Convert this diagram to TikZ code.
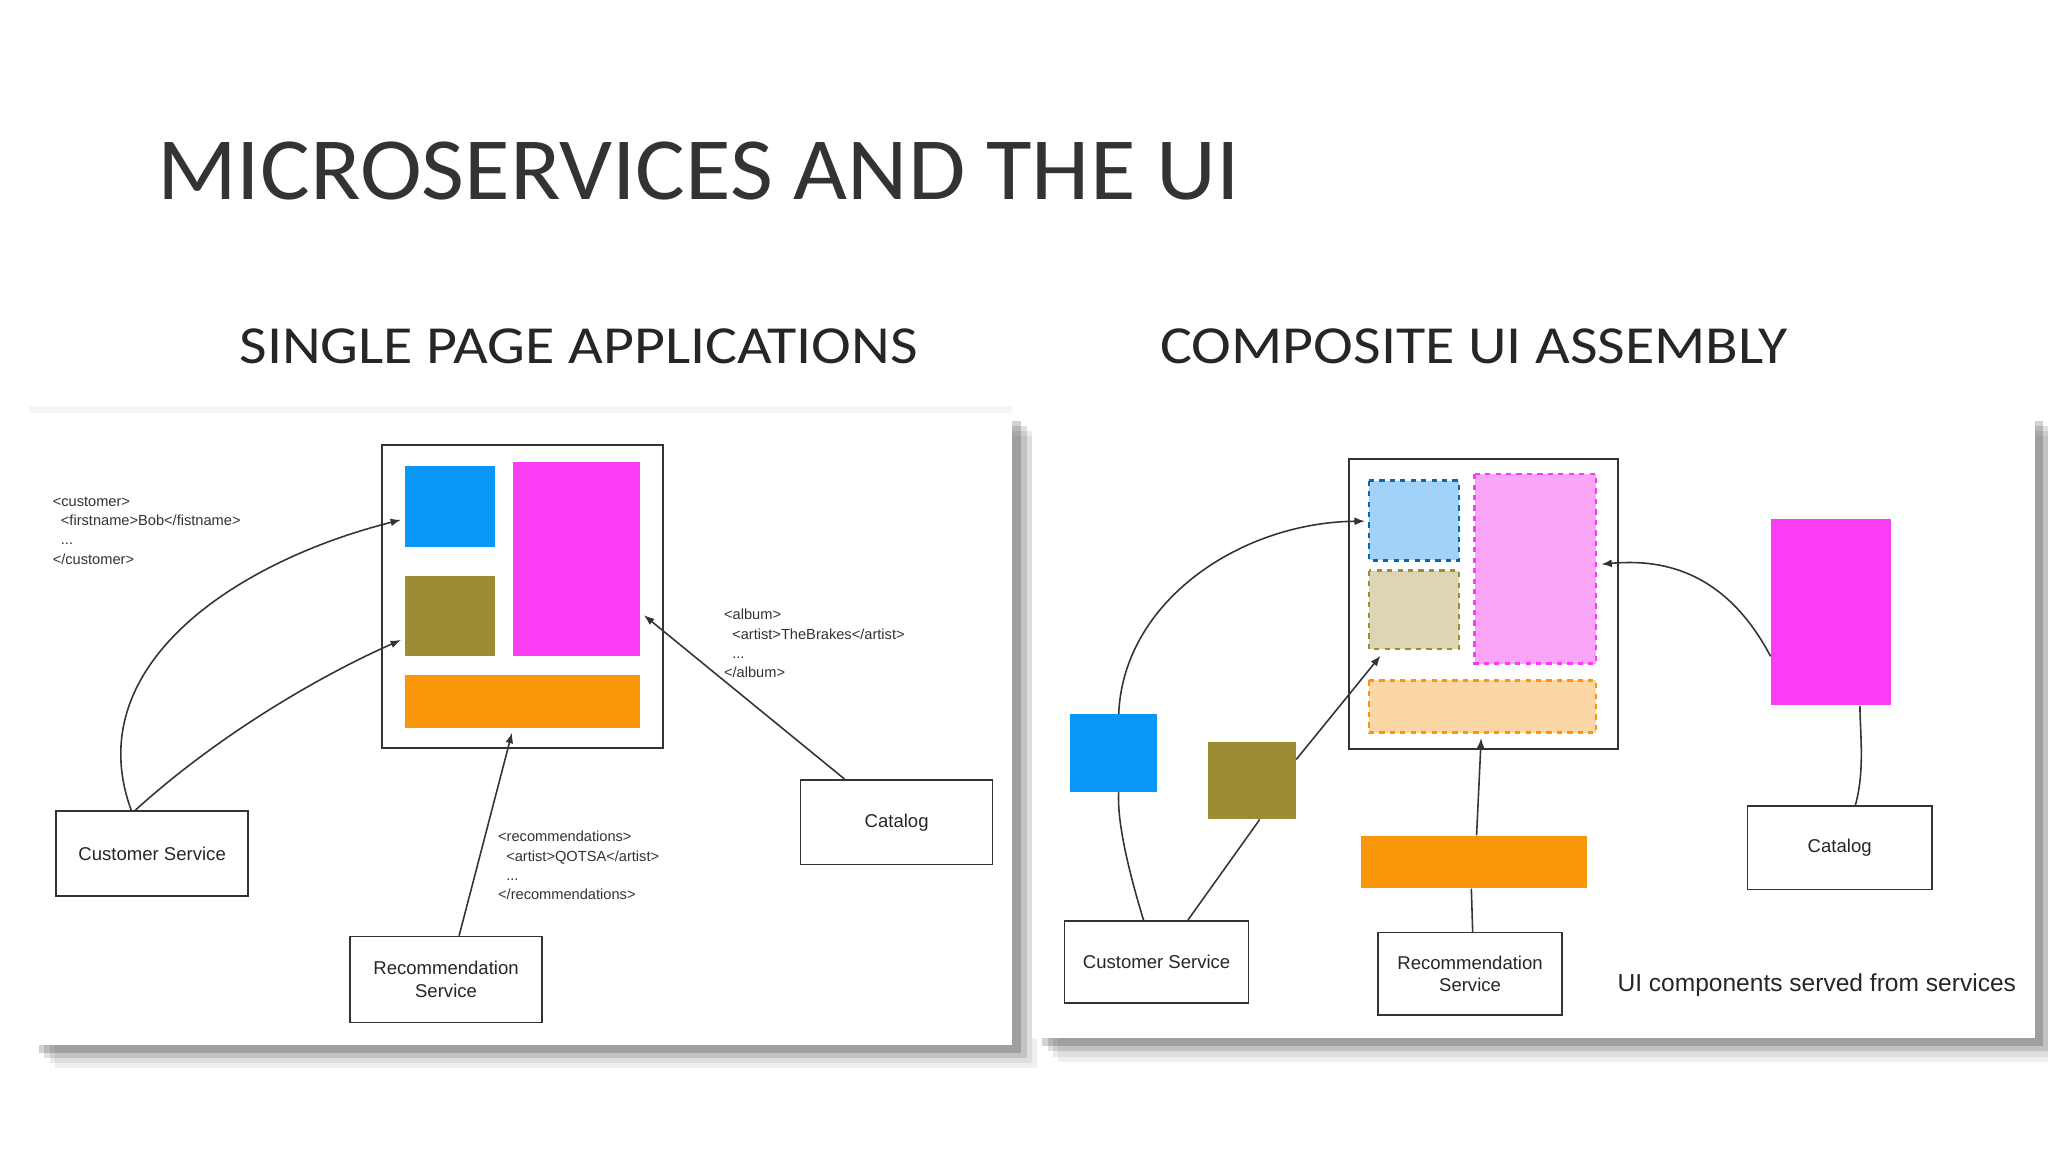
\documentclass[tikz,border=0pt]{standalone}
\usepackage{fontspec}
\setmainfont{Liberation Sans}
\newfontfamily\calfont{Carlito}
\newfontfamily\calwide{Carlito}[FakeStretch=1.05]
\newfontfamily\calwider{Carlito}[FakeStretch=1.12]
\usetikzlibrary{arrows.meta}
\definecolor{mblue}{HTML}{0A96F5}
\definecolor{mmag}{HTML}{FA3CF5}
\definecolor{molive}{HTML}{9C8C32}
\definecolor{morange}{HTML}{FA960A}
\definecolor{lblue}{HTML}{A0D2FA}
\definecolor{lpink}{HTML}{FAA5F8}
\definecolor{ltan}{HTML}{DCD6B4}
\definecolor{lpeach}{HTML}{FAD7A5}
\begin{document}
\begin{tikzpicture}[x=0.5pt,y=-0.5pt,
  box/.style={draw=black!80,line width=0.6pt,fill=white},
  svc/.style={draw=black!80,line width=0.6pt,fill=white,font=\fontsize{7.1}{8.6}\selectfont,align=center,inner sep=0,text=black!85},
  xml/.style={font=\fontsize{5.6}{7.4}\selectfont,align=left,anchor=north west,inner sep=0,text=black!80},
  ar/.style={-{Latex[length=4pt,width=3pt]},line width=0.6pt,black!80},
  ln/.style={line width=0.6pt,black!80},
  dsh/.style={line width=1pt,dash pattern=on 2pt off 2pt}]
\useasboundingbox (0,0) rectangle (1568,882);
\fill[white] (0,0) rectangle (1568,882);
% titles
\node[anchor=base west,inner sep=0,font=\calwide\fontsize{34}{36}\selectfont,text=black!80] (title) at (120,153) {MICROSERVICES AND THE UI};
\node[anchor=base west,inner sep=0,font=\calwider\fontsize{20.5}{22}\selectfont,text=black!85] (st1) at (183,278) {SINGLE PAGE APPLICATIONS};
\node[anchor=base west,inner sep=0,font=\calwider\fontsize{20.5}{22}\selectfont,text=black!85] (st2) at (888,278) {COMPOSITE UI ASSEMBLY};
% panel shadows
\foreach \o/\a in {16/0.06,12/0.08,8/0.12,4/0.18}{
  \fill[black,opacity=\a] (26+\o,318+\o) rectangle (778+\o,802+\o);
  \fill[black,opacity=\a] (794+\o,318+\o) rectangle (1560+\o,797+\o);}
\fill[black!4] (22,311) rectangle (775,316);
\fill[white] (22,316) rectangle (775,800);
\fill[white] (790,316) rectangle (1558,795);
% ===== left =====
\node[box,minimum width=107.5pt,minimum height=116pt,anchor=north west] (ui) at (292,340) {};
\fill[mblue] (310,357) rectangle (379,419);
\coordinate (b1) at (307,398);
\fill[mmag] (393,354) rectangle (490,502);
\fill[molive] (310,441) rectangle (379,502);
\coordinate (b2) at (307,490);
\fill[morange] (310,517) rectangle (490,557);
\node[svc,minimum width=73.5pt,minimum height=32.5pt] (cs) at (116.5,653.5) {Customer Service};
\node[svc,minimum width=73.5pt,minimum height=33pt] (rs) at (341.5,750) {Recommendation\\Service};
\node[svc,minimum width=73.5pt,minimum height=32.5pt] (cat) at (686.5,629.5) {Catalog};
\draw[ar] ([xshift=-8pt]cs.north) .. controls (60,510) and (180,430) .. (b1);
\draw[ar] ([xshift=-6.5pt]cs.north) .. controls (170,560) and (250,515) .. (b2);
\coordinate (u1) at (392,561);
\draw[ar] ([xshift=5pt]rs.north) -- (u1);
\coordinate (u2) at (493,471);
\draw[ar] ([xshift=-20pt]cat.north) -- (u2);
\node[xml] (x1) at (40,380) {<customer>\\\ \ <firstname>Bob</fistname>\\\ \ ...\\</customer>};
\node[xml] (x2) at (381,636) {<recommendations>\\\ \ <artist>QOTSA</artist>\\\ \ ...\\</recommendations>};
\node[xml] (x3) at (554,466) {<album>\\\ \ <artist>TheBrakes</artist>\\\ \ ...\\</album>};
% ===== right =====
\node[box,minimum width=103pt,minimum height=111pt,anchor=north west] (ui2) at (1032,351) {};
\filldraw[fill=lblue,draw=mblue!70!black,dsh] (1048,368) rectangle (1117,429);
\filldraw[fill=lpink,draw=mmag,dsh] (1129,363) rectangle (1222,508);
\filldraw[fill=ltan,draw=molive,dsh] (1048,437) rectangle (1117,497);
\filldraw[fill=lpeach,draw=morange,dsh] (1048,521) rectangle (1222,561);
\node[fill=mblue,minimum width=33.5pt,minimum height=29.5pt,inner sep=0] (bl) at (852.5,576.5) {};
\node[fill=molive,minimum width=33.5pt,minimum height=29.5pt,inner sep=0] (ol) at (958.5,597.5) {};
\node[fill=morange,minimum width=86.5pt,minimum height=20pt,inner sep=0] (or) at (1128.5,660) {};
\node[fill=mmag,minimum width=46pt,minimum height=71.5pt,inner sep=0] (mg) at (1402,468.5) {};
\node[svc,minimum width=70.5pt,minimum height=31.5pt] (cs2) at (885.5,736.5) {Customer Service};
\node[svc,minimum width=70.5pt,minimum height=31.5pt] (rs2) at (1125.5,745.5) {Recommendation\\Service};
\node[svc,minimum width=70.5pt,minimum height=32pt] (cat2) at (1408.5,649) {Catalog};
\coordinate (t1) at (1045,399);
\coordinate (t2) at (1057,502);
\coordinate (t3) at (1134,565);
\coordinate (t4) at (1226,432);
\draw[ln] ([xshift=-5pt]cs2.north) .. controls (865,670) and (855,630) .. ([xshift=2pt]bl.south);
\draw[ar] ([xshift=2pt]bl.north) .. controls (860,460) and (950,400) .. (t1);
\draw[ln] ([xshift=12pt]cs2.north) -- ([xshift=3pt]ol.south);
\draw[ar] ([yshift=8pt]ol.east) -- (t2);
\draw[ln] ([xshift=1pt]rs2.north) -- ([xshift=-1pt]or.south);
\draw[ar] ([xshift=1pt]or.north) -- (t3);
\draw[ln] ([xshift=6pt]cat2.north) .. controls (1428,590) and (1424,560) .. ([xshift=11pt]mg.south);
\draw[ar] ([yshift=-17pt]mg.west) .. controls (1320,435) and (1270,428) .. (t4);
\node[anchor=base west,inner sep=0,font=\fontsize{9.4}{11}\selectfont,text=black!85] (cap) at (1238,759) {UI components served from services};
\end{tikzpicture}
\end{document}
